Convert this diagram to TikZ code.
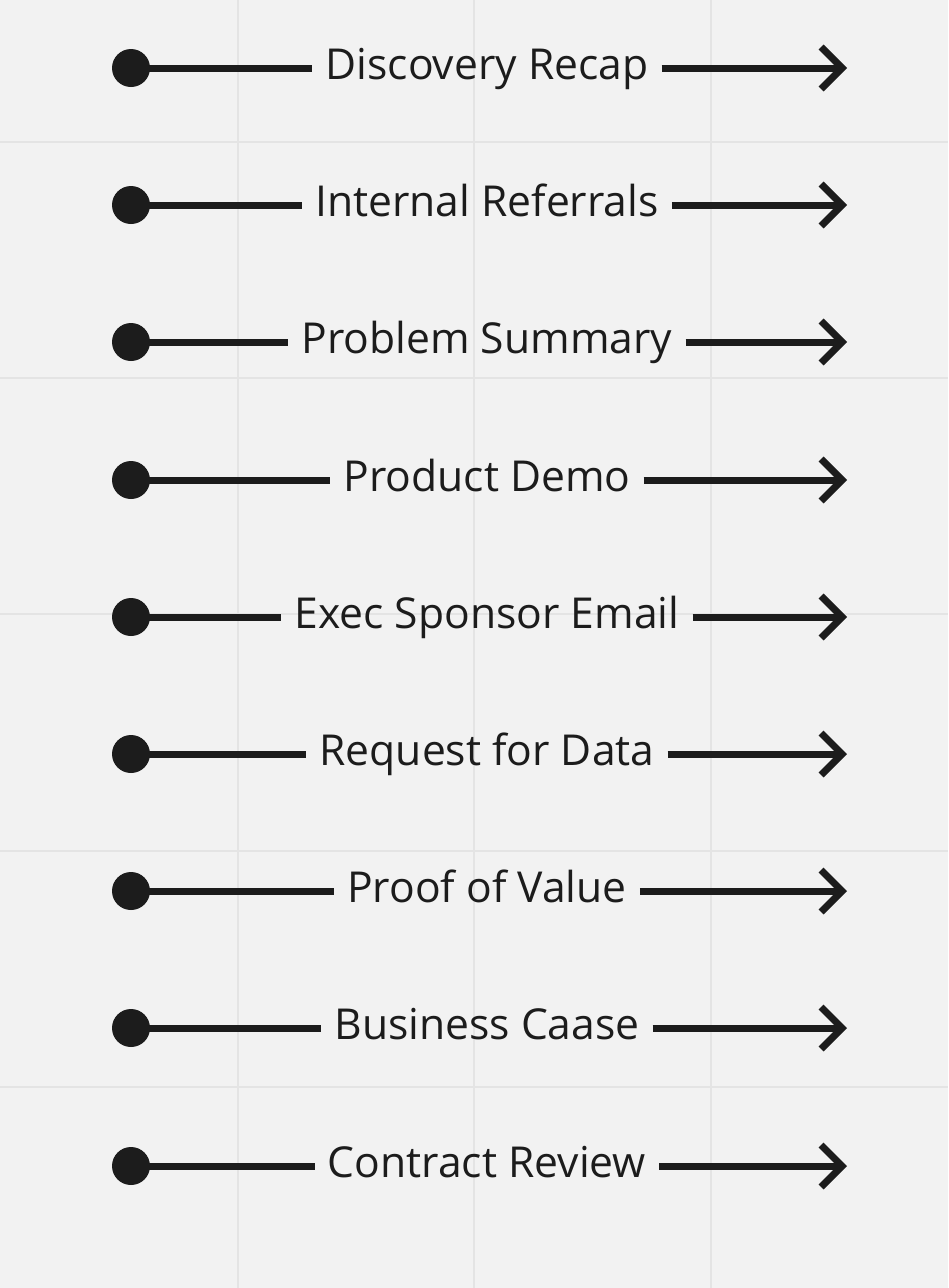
\documentclass[tikz,border=0pt]{standalone}
\usepackage{fontspec}
\setmainfont{Open Sans}
\usetikzlibrary{arrows.meta}
\definecolor{bg}{HTML}{F2F2F2}
\definecolor{gridc}{HTML}{E4E4E4}
\definecolor{ink}{HTML}{1C1C1C}
\tikzset{
  dotnode/.style={circle,fill=ink,inner sep=0pt,minimum size=38pt},
  label/.style={anchor=base,inner xsep=13pt,inner ysep=0pt,text=ink,font=\fontsize{42.6}{50}\selectfont},
  conn/.style={draw=ink,line width=7pt},
  arr/.style={conn,-{Straight Barb[length=21pt,width=42pt,line width=7pt]}},
}
\begin{document}
\begin{tikzpicture}[x=1pt,y=-1pt]
\fill[bg] (0,0) rectangle (948,1288);
\useasboundingbox (0,0) rectangle (948,1288);
\foreach \gx in {238,474,711} \draw[gridc,line width=2pt] (\gx,0) -- (\gx,1288);
\foreach \gy in {142,378,614,851,1087} \draw[gridc,line width=2pt] (0,\gy) -- (948,\gy);
\foreach \i/\yy/\txt in {1/68/Discovery Recap,2/205/Internal Referrals,3/342/Problem Summary,4/480/Product Demo,5/617/Exec Sponsor Email,6/754/Request for Data,7/891/Proof of Value,8/1028/Business Caase,9/1166/Contract Review}{
  \node[dotnode] (d\i) at (131,\yy) {};
  \node[label] (t\i) at (487,\yy+11) {\txt};
  \coordinate (e\i) at (847,\yy);
  \draw[conn] (d\i.center) -- (d\i.center -| t\i.west);
  \draw[arr] (d\i.center -| t\i.east) -- (e\i);
}
\end{tikzpicture}
\end{document}
